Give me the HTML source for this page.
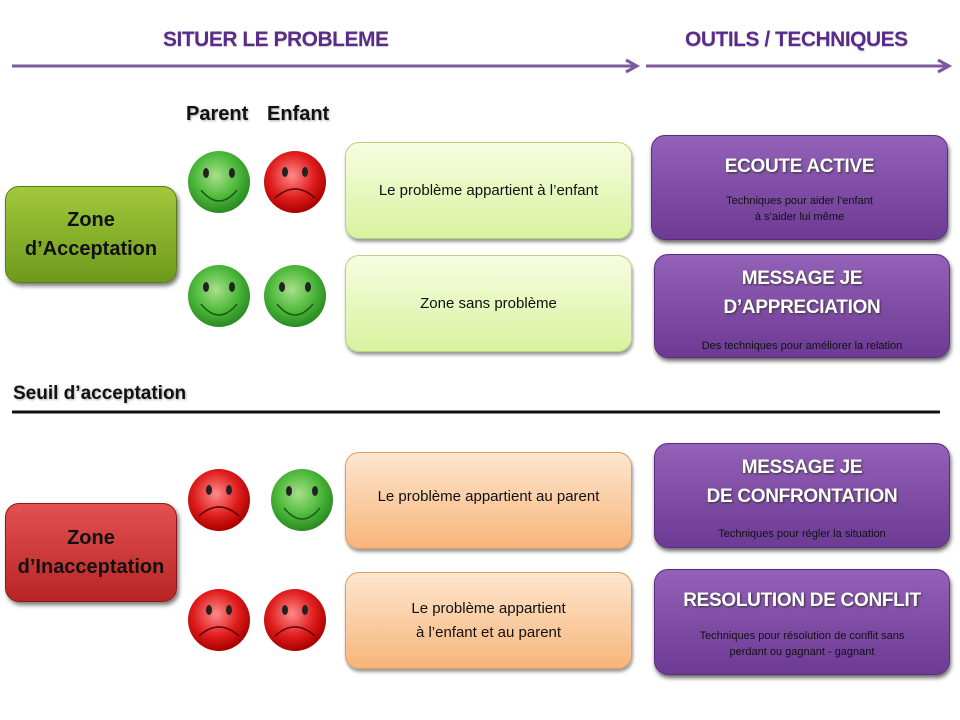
<!DOCTYPE html>
<html><head><meta charset="utf-8">
<style>
body{margin:0;width:960px;height:720px;background:#fff;position:relative;overflow:hidden;font-family:"Liberation Sans",sans-serif}
.a{position:absolute}
.t{font-weight:bold;color:#5b2b8c;font-size:21px;letter-spacing:-0.5px;text-shadow:0 1px 1px #ccc}
.lbl{font-weight:bold;font-size:20px;color:#111;text-shadow:1px 1px 2px #aaa}
.box{position:absolute;border-radius:14px;display:flex;align-items:center;justify-content:center;text-align:center;box-sizing:border-box}
.zg{background:linear-gradient(#a2c83c,#6e9a1c);border:1px solid #5a7d18;box-shadow:2px 3px 4px #777;font-weight:bold;font-size:20px;line-height:29px;color:#111}
.zr{background:linear-gradient(#e35050,#b82525);border:1px solid #8a1a1a;box-shadow:2px 3px 4px #777;font-weight:bold;font-size:20px;line-height:29px;color:#111}
.lg{background:linear-gradient(#f7fde0,#d9f2a0);border:1px solid #b8d47c;box-shadow:1px 3px 3px #999;font-size:15px;color:#111;line-height:24px}
.or{background:linear-gradient(#fde6cf,#f7b57a);border:1px solid #e09b60;box-shadow:1px 3px 3px #999;font-size:15px;color:#111;line-height:24px}
.pu{background:linear-gradient(#9461b8,#6d3a94);border:1px solid #5a2d7d;box-shadow:1px 3px 4px #666;flex-direction:column;justify-content:flex-start}
.pu h{display:block;color:#fff;font-weight:bold;font-size:19px;line-height:29px;text-shadow:1px 1px 2px #333;letter-spacing:-0.3px}
.pu s{display:block;text-decoration:none;color:#111;font-size:11px;line-height:16px}
</style></head><body>
<div class="a t" style="left:163px;top:28px">SITUER LE PROBLEME</div>
<div class="a t" style="left:685px;top:28px">OUTILS / TECHNIQUES</div>
<svg class="a" style="left:0;top:0" width="960" height="720">
<g stroke="#7d5a9e" stroke-width="3" fill="none">
<line x1="12" y1="66" x2="636" y2="66"/><polyline points="626,60 637,66 626,72"/>
<line x1="646" y1="66" x2="948" y2="66"/><polyline points="938,60 949,66 938,72"/>
</g>
<line x1="12" y1="412" x2="940" y2="412" stroke="#111" stroke-width="3"/>
<defs>
<radialGradient id="g" cx="45%" cy="40%" r="60%"><stop offset="0" stop-color="#a8e08a"/><stop offset="0.6" stop-color="#4cb83a"/><stop offset="1" stop-color="#2a8a22"/></radialGradient>
<radialGradient id="r" cx="45%" cy="40%" r="60%"><stop offset="0" stop-color="#ff8a8a"/><stop offset="0.6" stop-color="#e01e1e"/><stop offset="1" stop-color="#a00"/></radialGradient>
<g id="hap"><circle r="31" fill="url(#g)"/><ellipse cx="-13" cy="-9" rx="3" ry="5" fill="#222"/><ellipse cx="13" cy="-9" rx="3" ry="5" fill="#222"/><path d="M-18,8 Q0,30 18,8" stroke="#1a5a14" stroke-width="1.5" fill="none"/></g>
<g id="sad"><circle r="31" fill="url(#r)"/><ellipse cx="-10" cy="-10" rx="3" ry="5" fill="#222"/><ellipse cx="10" cy="-10" rx="3" ry="5" fill="#222"/><path d="M-20,16 Q0,-2 20,16" stroke="#5a0000" stroke-width="1.5" fill="none"/></g>
</defs>
<use href="#hap" x="219" y="182"/><use href="#sad" x="295" y="182"/>
<use href="#hap" x="219" y="296"/><use href="#hap" x="295" y="296"/>
<use href="#sad" x="219" y="500"/><use href="#hap" x="302" y="500"/>
<use href="#sad" x="219" y="620"/><use href="#sad" x="295" y="620"/>
</svg>
<div class="a lbl" style="left:186px;top:103px">Parent</div>
<div class="a lbl" style="left:267px;top:103px">Enfant</div>
<div class="a lbl" style="left:13px;top:383px;font-size:19px">Seuil d’acceptation</div>
<div class="box zg" style="left:5px;top:186px;width:172px;height:97px">Zone<br>d’Acceptation</div>
<div class="box zr" style="left:5px;top:503px;width:172px;height:99px">Zone<br>d’Inacceptation</div>
<div class="box lg" style="left:345px;top:142px;width:287px;height:97px">Le problème appartient à l’enfant</div>
<div class="box lg" style="left:345px;top:255px;width:287px;height:97px">Zone sans problème</div>
<div class="box or" style="left:345px;top:452px;width:287px;height:97px;align-items:flex-start;padding-top:32px">Le problème appartient au parent</div>
<div class="box or" style="left:345px;top:572px;width:287px;height:97px">Le problème appartient<br>à l’enfant et au parent</div>
<div class="box pu" style="left:651px;top:135px;width:297px;height:105px;padding-top:16px"><h>ECOUTE ACTIVE</h><s style="margin-top:12px">Techniques pour aider l’enfant<br>à s’aider lui même</s></div>
<div class="box pu" style="left:654px;top:254px;width:296px;height:104px;padding-top:9px"><h>MESSAGE JE<br>D’APPRECIATION</h><s style="margin-top:16px">Des techniques pour améliorer la relation</s></div>
<div class="box pu" style="left:654px;top:443px;width:296px;height:105px;padding-top:9px"><h>MESSAGE JE<br>DE CONFRONTATION</h><s style="margin-top:15px">Techniques pour régler la situation</s></div>
<div class="box pu" style="left:654px;top:569px;width:296px;height:106px;padding-top:16px"><h>RESOLUTION DE CONFLIT</h><s style="margin-top:13px">Techniques pour résolution de conflit sans<br>perdant ou  gagnant - gagnant</s></div>
</body></html>
